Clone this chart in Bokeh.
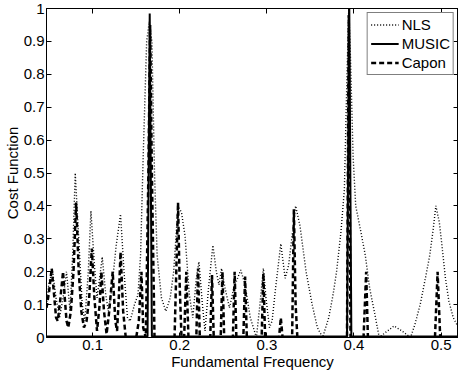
from bokeh.plotting import figure
from bokeh.models import LinearAxis, FixedTicker, Range1d, Legend, LegendItem, ColumnDataSource
from bokeh.embed import file_html
from bokeh.resources import INLINE

# ---- data ----
nls_freq = [0.047, 0.050, 0.054, 0.058, 0.062, 0.066, 0.070, 0.074, 0.077, 0.080,
            0.084, 0.088, 0.091, 0.095, 0.098, 0.102, 0.105, 0.108, 0.111, 0.115,
            0.118, 0.122, 0.127, 0.132, 0.136, 0.140, 0.143, 0.148, 0.152, 0.155,
            0.158, 0.162, 0.165, 0.168, 0.171, 0.174, 0.179, 0.184, 0.189, 0.193,
            0.198, 0.202, 0.206, 0.211, 0.215, 0.219, 0.222, 0.226, 0.229, 0.233,
            0.238, 0.242, 0.245, 0.248, 0.252, 0.257, 0.262, 0.270, 0.275, 0.281,
            0.288, 0.292, 0.296, 0.299, 0.303, 0.306, 0.310, 0.316, 0.321, 0.325,
            0.333, 0.338, 0.345, 0.352, 0.358, 0.364, 0.371, 0.376, 0.380, 0.385,
            0.389, 0.392, 0.394, 0.396, 0.399, 0.402, 0.408, 0.413, 0.418, 0.424,
            0.429, 0.436, 0.446, 0.455, 0.465, 0.470, 0.476, 0.482, 0.487, 0.491,
            0.494, 0.498, 0.501, 0.505, 0.509, 0.514, 0.520]
nls_cost = [0.10, 0.17, 0.20, 0.12, 0.06, 0.12, 0.20, 0.08, 0.25, 0.50,
            0.30, 0.10, 0.05, 0.20, 0.385, 0.22, 0.12, 0.18, 0.245, 0.13,
            0.08, 0.15, 0.28, 0.375, 0.20, 0.06, 0.05, 0.10, 0.13, 0.25,
            0.55, 0.90, 0.96, 0.90, 0.50, 0.25, 0.12, 0.08, 0.12, 0.20,
            0.40, 0.38, 0.31, 0.13, 0.06, 0.18, 0.23, 0.10, 0.02, 0.15,
            0.28, 0.20, 0.16, 0.21, 0.15, 0.09, 0.15, 0.205, 0.16, 0.06,
            0.00, 0.10, 0.21, 0.12, 0.03, 0.05, 0.15, 0.285, 0.18, 0.22,
            0.40, 0.34, 0.20, 0.10, 0.03, 0.00, 0.06, 0.13, 0.20, 0.32,
            0.45, 0.80, 1.00, 0.85, 0.55, 0.40, 0.32, 0.25, 0.15, 0.07,
            0.00, 0.015, 0.035, 0.02, 0.00, 0.04, 0.10, 0.18, 0.25, 0.33,
            0.40, 0.35, 0.28, 0.18, 0.11, 0.06, 0.03]

music_freq = [0.047, 0.163, 0.1655, 0.168, 0.392, 0.3945, 0.397, 0.520]
music_cost = [0.003, 0.003, 0.985, 0.003, 0.003, 1.05, 0.003, 0.003]

capon_freq = [0.047, 0.050, 0.053, 0.055, 0.058, 0.060, 0.063, 0.066, 0.068, 0.070,
              0.072, 0.075, 0.078, 0.081, 0.084, 0.087, 0.090, 0.093, 0.096, 0.099,
              0.102, 0.105, 0.108, 0.110, 0.113, 0.116, 0.119, 0.123, 0.126, 0.128,
              0.130, 0.132, 0.135, 0.138, 0.150, 0.153, 0.156, 0.158, 0.161, 0.164,
              0.166, 0.168, 0.171, 0.194, 0.196, 0.198, 0.200, 0.202, 0.205, 0.2075,
              0.210, 0.219, 0.221, 0.223, 0.235, 0.237, 0.239, 0.247, 0.249, 0.251,
              0.261, 0.263, 0.265, 0.273, 0.275, 0.277, 0.294, 0.296, 0.298, 0.314,
              0.316, 0.318, 0.329, 0.331, 0.333, 0.335, 0.392, 0.394, 0.396, 0.411,
              0.414, 0.416, 0.493, 0.496, 0.499, 0.520]
capon_cost = [0.09, 0.14, 0.21, 0.15, 0.06, 0.05, 0.12, 0.20, 0.12, 0.05,
              0.03, 0.08, 0.20, 0.41, 0.20, 0.08, 0.03, 0.05, 0.12, 0.27,
              0.12, 0.02, 0.10, 0.20, 0.08, 0.01, 0.08, 0.20, 0.05, 0.02,
              0.12, 0.26, 0.08, 0.00, 0.00, 0.05, 0.20, 0.03, 0.00, 0.50,
              0.95, 0.50, 0.00, 0.00, 0.20, 0.41, 0.15, 0.00, 0.00, 0.20,
              0.00, 0.00, 0.21, 0.00, 0.00, 0.19, 0.00, 0.00, 0.20, 0.00,
              0.00, 0.20, 0.00, 0.00, 0.185, 0.00, 0.00, 0.195, 0.00, 0.00,
              0.06, 0.00, 0.00, 0.39, 0.10, 0.00, 0.00, 0.98, 0.00, 0.00,
              0.20, 0.00, 0.00, 0.20, 0.00, 0.00]

x_ticks = [0.1, 0.2, 0.3, 0.4, 0.5]
x_tick_labels = ["0.1", "0.2", "0.3", "0.4", "0.5"]
y_ticks = [0.0, 0.1, 0.2, 0.3, 0.4, 0.5, 0.6, 0.7, 0.8, 0.9, 1.0]
y_tick_labels = ["0", "0.1", "0.2", "0.3", "0.4", "0.5", "0.6", "0.7", "0.8", "0.9", "1"]

FONT = "Liberation Sans"
FS = "15px"

p = figure(width=458, height=372, x_range=Range1d(0.047, 0.52), y_range=Range1d(0, 1),
           output_backend="svg", toolbar_location=None,
           min_border_left=30, min_border_right=0, min_border_top=8, min_border_bottom=20)
p.grid.visible = False
p.outline_line_color = "black"
p.outline_line_width = 1
p.background_fill_color = "white"
p.border_fill_color = "white"

src_nls = ColumnDataSource(dict(x=nls_freq, y=nls_cost))
src_music = ColumnDataSource(dict(x=music_freq, y=music_cost))
src_capon = ColumnDataSource(dict(x=capon_freq, y=capon_cost))

r_nls = p.line("x", "y", source=src_nls, line_color="black", line_width=1.4, line_dash="1 2")
r_capon = p.line("x", "y", source=src_capon, line_color="black", line_width=2.5, line_dash="5 3")
r_music = p.line("x", "y", source=src_music, line_color="black", line_width=2)

def style_axis(ax, ticks, labels, show_labels=True):
    ax.ticker = FixedTicker(ticks=ticks)
    ax.minor_tick_line_color = None
    ax.major_tick_in = 5
    ax.major_tick_out = 0
    ax.axis_line_color = "black"
    ax.major_tick_line_color = "black"
    ax.major_label_text_font = FONT
    if show_labels:
        ax.major_label_overrides = {t: l for t, l in zip(ticks, labels)}
        ax.major_label_text_color = "black"
        ax.major_label_text_font_size = FS
        ax.major_label_standoff = 2
    else:
        ax.major_label_text_color = None
        ax.major_label_text_font_size = "1px"
        ax.major_label_standoff = 0

style_axis(p.xaxis[0], x_ticks, x_tick_labels)
style_axis(p.yaxis[0], y_ticks, y_tick_labels)
p.xaxis[0].axis_label = "Fundamental Frequency"
p.yaxis[0].axis_label = "Cost Function"
for ax in (p.xaxis[0], p.yaxis[0]):
    ax.axis_label_text_font = FONT
    ax.axis_label_text_font_size = FS
    ax.axis_label_text_font_style = "normal"
    ax.axis_label_text_color = "black"
    ax.axis_label_standoff = 0

top_ax = LinearAxis()
style_axis(top_ax, x_ticks, x_tick_labels, show_labels=False)
p.add_layout(top_ax, "above")
right_ax = LinearAxis()
style_axis(right_ax, y_ticks, y_tick_labels, show_labels=False)
p.add_layout(right_ax, "right")

legend = Legend(items=[LegendItem(label="NLS", renderers=[r_nls]),
                       LegendItem(label="MUSIC", renderers=[r_music]),
                       LegendItem(label="Capon", renderers=[r_capon])],
                location="top_right")
legend.label_text_font = FONT
legend.label_text_font_size = FS
legend.label_text_color = "black"
legend.label_height = 17
legend.glyph_height = 17
legend.glyph_width = 28
legend.label_standoff = 3
legend.spacing = 2
legend.padding = 3
legend.margin = 4
legend.border_line_color = "black"
legend.border_line_width = 1
legend.background_fill_alpha = 1
p.add_layout(legend)

open("out.html", "w").write(file_html(p, INLINE))
